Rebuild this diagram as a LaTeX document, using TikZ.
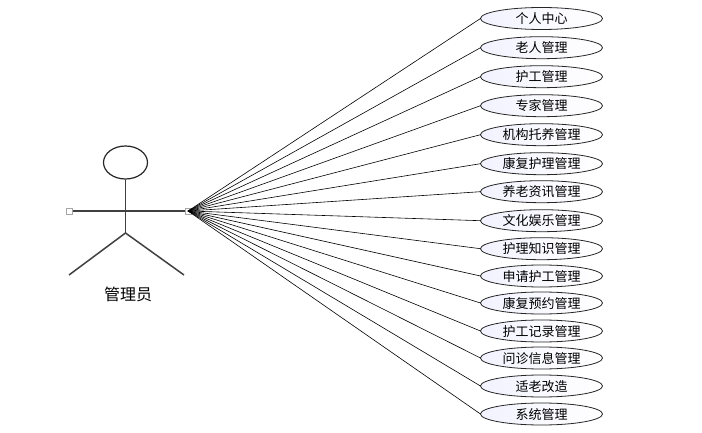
\documentclass[tikz,border=0pt]{standalone}
\usepackage{fontspec}
\setmainfont{Noto Sans CJK SC}
\usetikzlibrary{shapes.geometric,positioning}

\begin{document}
\begin{tikzpicture}[x=1pt,y=-1pt,
  usecase/.style={ellipse, draw=black!85, line width=0.8pt, inner sep=0pt, outer sep=0pt,
    font=\fontsize{13}{14}\selectfont, text height=10.5pt, text depth=0.5pt,
    minimum width=122pt, minimum height=22pt, left color=blue!5, right color=white},
  limb/.style={draw=black!75, line width=1.5pt},
  handle/.style={rectangle, draw=black!35, fill=white, line width=0.9pt,
    inner sep=0pt, minimum size=6pt},
  assoc/.style={draw=black, line width=0.6pt}
]
  \useasboundingbox (0,0) rectangle (702,433);
  % actor
  \node[ellipse, draw=black!85, line width=1.2pt, inner sep=0pt,
    minimum width=44pt, minimum height=33pt] (head) at (125.5,162.5) {};
  \coordinate (hip) at (125.5,233);
  \coordinate (lfoot) at (69,275);
  \coordinate (rfoot) at (184,275);
  \node[handle] (lhand) at (69.5,211) {};
  \node[handle] (rhand) at (188,211) {};
  \node[font=\fontsize{16}{18}\selectfont] (actor) at (128,294.5) {管理员};
  \draw[limb] (lhand) -- (rhand);
  \draw[limb] (head) -- (hip);
  \draw[limb] (hip) -- (lfoot);
  \draw[limb] (hip) -- (rfoot);
  % use cases
  \node[usecase] (u1) at (541.5,18.5) {个人中心};
  \node[usecase, below=7.2pt of u1] (u2) {老人管理};
  \node[usecase, below=7pt of u2] (u3) {护工管理};
  \node[usecase, below=7pt of u3] (u4) {专家管理};
  \node[usecase, below=7pt of u4] (u5) {机构托养管理};
  \node[usecase, below=7pt of u5] (u6) {康复护理管理};
  \node[usecase, below=6pt of u6] (u7) {养老资讯管理};
  \node[usecase, below=7pt of u7] (u8) {文化娱乐管理};
  \node[usecase, below=6pt of u8] (u9) {护理知识管理};
  \node[usecase, below=5.3pt of u9] (u10) {申请护工管理};
  \node[usecase, below=5pt of u10] (u11) {康复预约管理};
  \node[usecase, below=6pt of u11] (u12) {护工记录管理};
  \node[usecase, below=5pt of u12] (u13) {问诊信息管理};
  \node[usecase, below=6pt of u13] (u14) {适老改造};
  \node[usecase, below=6pt of u14] (u15) {系统管理};
  % associations
  \draw[assoc] (rhand.center) -- (u1.west);
  \draw[assoc] (rhand.center) -- (u2.west);
  \draw[assoc] (rhand.center) -- (u3.west);
  \draw[assoc] (rhand.center) -- (u4.west);
  \draw[assoc] (rhand.center) -- (u5.west);
  \draw[assoc] (rhand.center) -- (u6.west);
  \draw[assoc] (rhand.center) -- (u7.west);
  \draw[assoc] (rhand.center) -- (u8.west);
  \draw[assoc] (rhand.center) -- (u9.west);
  \draw[assoc] (rhand.center) -- (u10.west);
  \draw[assoc] (rhand.center) -- (u11.west);
  \draw[assoc] (rhand.center) -- (u12.west);
  \draw[assoc] (rhand.center) -- (u13.west);
  \draw[assoc] (rhand.center) -- (u14.west);
  \draw[assoc] (rhand.center) -- (u15.west);
\end{tikzpicture}
\end{document}
